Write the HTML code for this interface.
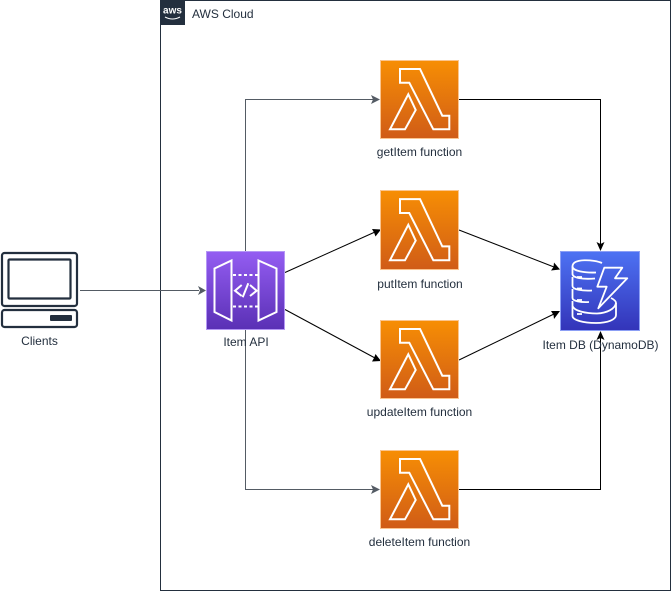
<!DOCTYPE html>
<html><head><meta charset="utf-8"><style>
html,body{margin:0;padding:0;background:#fff;width:671px;height:591px;overflow:hidden}
svg{display:block}
text{font-family:"Liberation Sans",sans-serif;font-size:12px;fill:#232f3e;text-anchor:middle}
</style></head><body>
<svg width="671" height="591" viewBox="0 0 671 591" xmlns="http://www.w3.org/2000/svg">
<defs>
<linearGradient id="o" x1="0" y1="0" x2="0" y2="1"><stop offset="0" stop-color="#f78e04"/><stop offset="1" stop-color="#d05c17"/></linearGradient>
<linearGradient id="p" x1="0" y1="0" x2="0" y2="1"><stop offset="0" stop-color="#945df2"/><stop offset="1" stop-color="#5a30b5"/></linearGradient>
<linearGradient id="b" x1="0" y1="0" x2="0" y2="1"><stop offset="0" stop-color="#4d72f3"/><stop offset="1" stop-color="#3334b9"/></linearGradient>
<g id="lam">
<rect x="0.500" y="0.500" width="78" height="78" fill="url(#o)" stroke="#fbc58f" stroke-width="1"/>
<path d="M20 9H40L62.300 55.700H69.300V69.300H53.300L29.300 22.700H20Z M28.300 34.300L35.700 50L25 69.300H10Z" fill="none" stroke="#fff" stroke-width="2"/>
</g>
</defs>
<rect x="160.500" y="0.500" width="510" height="590" fill="#fff" stroke="#232f3e"/>
<rect x="160" y="0" width="25" height="25" fill="#232f3e"/>
<text x="172.500" y="13.500" style="font-size:10px;font-weight:bold;fill:#fff">aws</text>
<path d="M165 17Q172.500 21 180 17" fill="none" stroke="#fff" stroke-width="1"/>
<text x="192" y="18" style="text-anchor:start">AWS Cloud</text>

<g fill="none" stroke="#545b64" stroke-width="1">
<path d="M80 290.500H199"/>
<path d="M245.500 251V99.500H373"/>
<path d="M245.500 330V489.500H373"/>
</g>
<g fill="#545b64">
<path d="M206 290.500L198 286L200 290.500L198 295Z"/>
<path d="M380 99.500L371 95L373 99.500L371 104Z"/>
<path d="M380 489.500L371 485L373 489.500L371 494Z"/>
</g>
<g fill="none" stroke="#000" stroke-width="1">
<path d="M285 272.500L375 232"/>
<path d="M285 309.500L375 358"/>
<path d="M459 99.500H600.500V245"/>
<path d="M459 489.500H600.500V337"/>
<path d="M459 230L554 267"/>
<path d="M459 360L554 314"/>
</g>
<g fill="#000">
<path d="M381 229.500L372 229L374 232.500L375.500 236.500Z"/>
<path d="M381 361L375.500 354L374 358L372 361.500Z"/>
<path d="M600.500 251L596.500 242L600.500 244L604.500 242Z"/>
<path d="M600.500 331L596.500 340L600.500 338L604.500 340Z"/>
<path d="M560 269.500L554 262.500L553.500 267L551 270.500Z"/>
<path d="M560 311L551 311L553.500 315L554 319Z"/>
</g>

<use href="#lam" transform="translate(380 60)"/>
<use href="#lam" transform="translate(380 190) scale(1 1.013)"/>
<use href="#lam" transform="translate(380 320)"/>
<use href="#lam" transform="translate(380 450)"/>

<rect x="206.500" y="251.500" width="78" height="78" fill="url(#p)" stroke="#b497f5"/>
<g fill="none" stroke="#fff" stroke-width="2">
<path d="M214.500 268.500L231.500 260.500V320.500L214.500 312Z"/>
<path d="M258.500 260.500L276.500 268.500V312L258.500 320.500Z"/>
<path d="M233 275H257.500M233 306.500H257.500" stroke-dasharray="3 2.500"/>
<path d="M241.700 285L235 290.700L241.700 296M250 285L256.700 290.700L250 296M248.300 283.300L242.700 297.300"/>
</g>

<rect x="560.500" y="251.500" width="79" height="79" fill="url(#b)" stroke="#8c9ff5"/>
<g fill="none" stroke="#fff" stroke-width="1.800" stroke-linejoin="round">
<path d="M602 263C594 259.500 572.500 258 572.500 266.500C572.500 271 585 273 596 272.500"/>
<path d="M572.500 266.500V274C572.500 278 583 279.500 595 278.500"/>
<path d="M572.500 277V286C572.500 289.500 582 291 592 290.500"/>
<path d="M572.500 289V298C572.500 301 581 302.500 589 302"/>
<path d="M572.500 301V316C572.500 320 583 323 596 323C608 323 616 319.500 616 315V303"/>
<path d="M572.500 306C574 311 586 313.500 597 313.500C607 313 615 309 616 303C616 301 613 299 611 298"/>
<path d="M604.300 267.700H622.300L615 278.300H627.300L598.300 308.300L606.700 286.700H597.300Z"/>
<path d="M577 277H582M577 288.500H582M577 300H582M577 314H582"/>
</g>

<g fill="none" stroke="#232f3e" stroke-width="2.200">
<rect x="2" y="253" width="75" height="53" rx="2.500"/>
<rect x="8.500" y="259.500" width="62" height="39" rx="1"/>
<rect x="2" y="310" width="75" height="17" rx="2.500"/>
</g>
<rect x="50" y="315" width="22" height="6" rx="1" fill="#232f3e"/>

<text x="39.500" y="345">Clients</text>
<text x="246" y="346">Item API</text>
<text x="419.500" y="156">getItem function</text>
<text x="420" y="288">putItem function</text>
<text x="419.500" y="416">updateItem function</text>
<text x="419.500" y="546">deleteItem function</text>
<text x="600.500" y="349">Item DB (DynamoDB)</text>
</svg>
</body></html>
